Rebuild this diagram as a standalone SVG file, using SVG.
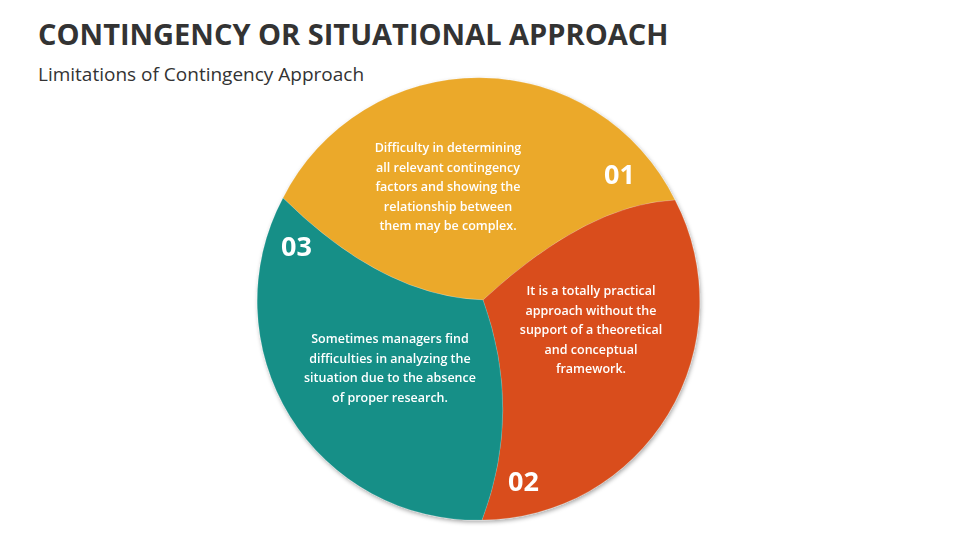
<svg xmlns="http://www.w3.org/2000/svg" width="960" height="540" viewBox="0 0 960 540">
<defs>
<style>
.t{font-family:"Open Sans","Liberation Sans",sans-serif;fill:#fff;font-size:12.5px;font-weight:600;text-anchor:middle}
.n{font-family:"Open Sans","Liberation Sans",sans-serif;fill:#fff;font-size:27px;font-weight:700}
.seg{stroke:#fff;stroke-width:0.5;stroke-opacity:0.3}
</style>
<filter id="sh" x="-10%" y="-10%" width="120%" height="120%"><feDropShadow dx="1" dy="2" stdDeviation="2" flood-opacity="0.35"/></filter>
</defs>
<rect width="960" height="540" fill="#fff"/>
<text x="38" y="45" font-family="'Open Sans','Liberation Sans',sans-serif" font-size="29" font-weight="700" fill="#333">CONTINGENCY OR SITUATIONAL APPROACH</text>
<text x="38" y="81" font-family="'Open Sans','Liberation Sans',sans-serif" font-size="19" fill="#333">Limitations of Contingency Approach</text>
<g filter="url(#sh)">
<g id="seg1"><path class="seg" fill="#EBA92B" d="M283,198 A219 219 0 0 1 675,200 Q587,204 483,300 Q383,297 283,198 Z"/>
<text class="t"><tspan x="448" y="152">Difficulty in determining</tspan><tspan x="448" y="171.5">all relevant contingency</tspan><tspan x="448" y="191">factors and showing the</tspan><tspan x="448" y="210.5">relationship between</tspan><tspan x="448" y="230">them may be complex.</tspan></text>
<text class="n" x="604" y="184">01</text></g>
<g id="seg2"><path class="seg" fill="#D94E1B" d="M675,200 A219 219 0 0 1 482,520 Q523,411 483,300 Q587,204 675,200 Z"/>
<text class="t"><tspan x="591" y="295">It is a totally practical</tspan><tspan x="591" y="314.5">approach without the</tspan><tspan x="591" y="334">support of a theoretical</tspan><tspan x="591" y="353.5">and conceptual</tspan><tspan x="591" y="373">framework.</tspan></text>
<text class="n" x="508" y="491">02</text></g>
<g id="seg3"><path class="seg" fill="#128F87" d="M482,520 A219 219 0 0 1 283,198 Q383,297 483,300 Q523,411 482,520 Z"/>
<text class="t"><tspan x="390" y="343">Sometimes managers find</tspan><tspan x="390" y="362.5">difficulties in analyzing the</tspan><tspan x="390" y="382">situation due to the absence</tspan><tspan x="390" y="401.5">of proper research.</tspan></text>
<text class="n" x="281" y="256">03</text></g>
</g>
<g id="connectors"/>
</svg>
